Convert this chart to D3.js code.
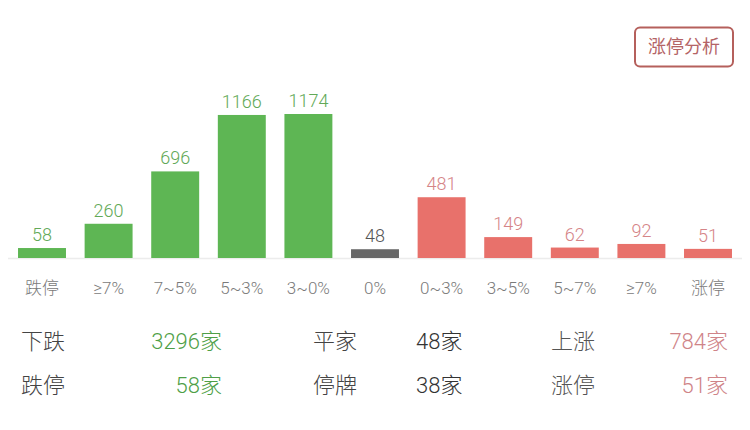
<!DOCTYPE html>
<html>
<head>
<meta charset="utf-8">
<script src="https://cdn.jsdelivr.net/npm/d3@7"></script>
<style>
  html, body { margin: 0; padding: 0; background: #fff; }
  svg { display: block; font-family: Roboto, "Noto Sans CJK SC", sans-serif; }
</style>
</head>
<body>
<svg id="canvas" width="750" height="430"></svg>
<script>
// bar chart data
const categories = ["跌停", "≥7%", "7~5%", "5~3%", "3~0%", "0%", "0~3%", "3~5%", "5~7%", "≥7% ", "涨停"];
const counts = [58, 260, 696, 1166, 1174, 48, 481, 149, 62, 92, 51];
const kinds = ["down", "down", "down", "down", "down", "flat", "up", "up", "up", "up", "up"];

// summary rows
const leftLabels = ["下跌", "跌停"];
const leftValues = ["3296家", "58家"];
const midLabels = ["平家", "停牌"];
const midValues = ["48家", "38家"];
const rightLabels = ["上涨", "涨停"];
const rightValues = ["784家", "51家"];

const barColor = { down: "#5eb654", flat: "#666666", up: "#e8716b" };
const labelColor = { down: "#62a957", flat: "#555555", up: "#d58487" };

const svg = d3.select("#canvas");
const baseline = 258;

const x = d3.scaleBand()
  .domain(categories)
  .range([8.7, 741.3])
  .paddingInner(0.28)
  .paddingOuter(0.14);

const y = d3.scaleLinear()
  .domain([-25, d3.max(counts)])
  .range([baseline, baseline - 144]);

const data = categories.map((c, i) => ({ c, v: counts[i], k: kinds[i] }));

// baseline
svg.append("line")
  .attr("x1", 8).attr("x2", 742)
  .attr("y1", baseline + 0.5).attr("y2", baseline + 0.5)
  .attr("stroke", "#ececec").attr("stroke-width", 1.5);

svg.selectAll("rect.bar")
  .data(data)
  .enter()
  .append("rect")
  .attr("class", "bar")
  .attr("x", d => x(d.c))
  .attr("width", x.bandwidth())
  .attr("y", d => y(d.v))
  .attr("height", d => baseline - y(d.v))
  .attr("fill", d => barColor[d.k]);

svg.selectAll("text.val")
  .data(data)
  .enter()
  .append("text")
  .attr("class", "val")
  .attr("x", d => x(d.c) + x.bandwidth() / 2)
  .attr("y", d => y(d.v) - 7)
  .attr("text-anchor", "middle")
  .attr("font-size", 18)
  .attr("font-weight", 300)
  .attr("fill", d => labelColor[d.k])
  .text(d => d.v);

// x axis, labels only
const xAxis = d3.axisBottom(x).tickSize(0).tickPadding(0);
const gx = svg.append("g")
  .attr("transform", `translate(0, ${baseline + 36})`)
  .call(xAxis);
gx.select(".domain").remove();
gx.selectAll("text")
  .attr("dy", 0)
  .attr("font-size", 17)
  .attr("font-family", "Roboto, \"Noto Sans CJK SC\", sans-serif")
  .attr("font-weight", 300)
  .attr("fill", "#7a7a7a")
  .text(d => d.trim());

// button
svg.append("rect")
  .attr("x", 635).attr("y", 27.5)
  .attr("width", 98).attr("height", 39)
  .attr("rx", 5)
  .attr("fill", "#fff")
  .attr("stroke", "#b5605c")
  .attr("stroke-width", 2);
svg.append("text")
  .attr("x", 684).attr("y", 53)
  .attr("text-anchor", "middle")
  .attr("font-size", 18)
  .attr("fill", "#b46466")
  .text("涨停分析");

// summary table
const rowY = [349, 393];
const table = svg.append("g").attr("font-size", 22).attr("font-weight", 300);
rowY.forEach((ry, i) => {
  table.append("text").attr("x", 21).attr("y", ry).attr("fill", "#444").text(leftLabels[i]);
  table.append("text").attr("x", 222).attr("y", ry).attr("text-anchor", "end").attr("fill", "#4f9f47").text(leftValues[i]);
  table.append("text").attr("x", 313).attr("y", ry).attr("fill", "#444").text(midLabels[i]);
  table.append("text").attr("x", 416).attr("y", ry).attr("fill", "#333").text(midValues[i]);
  table.append("text").attr("x", 551).attr("y", ry).attr("fill", "#555").text(rightLabels[i]);
  table.append("text").attr("x", 728).attr("y", ry).attr("text-anchor", "end").attr("fill", "#cf8488").text(rightValues[i]);
});
</script>
</body>
</html>
